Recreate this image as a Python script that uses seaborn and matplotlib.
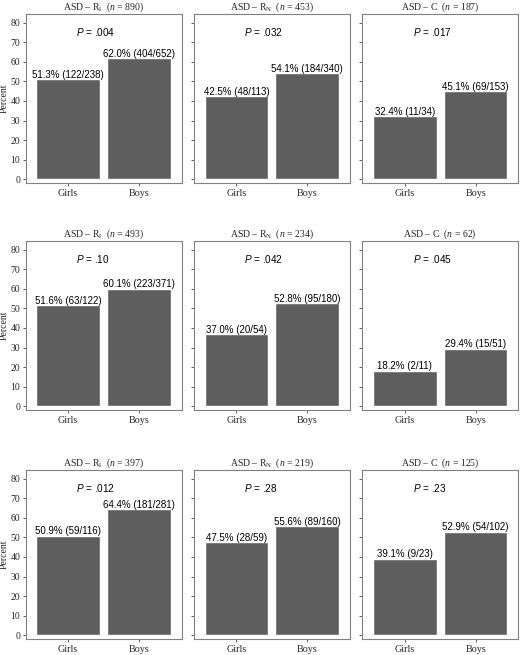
import matplotlib
matplotlib.use("Agg")
import matplotlib.pyplot as plt
import seaborn as sns
import pandas as pd

# ---- data ----
sexes = ["Girls", "Boys"]
col_titles = ["I", "N", "C"]
row_n = [[890, 453, 187], [493, 234, 62], [397, 219, 125]]
row_p = [[".004", ".032", ".017"], [".10", ".042", ".045"], [".012", ".28", ".23"]]
girls_pct = [[51.3, 42.5, 32.4], [51.6, 37.0, 18.2], [50.9, 47.5, 39.1]]
boys_pct = [[62.0, 54.1, 45.1], [60.1, 52.8, 29.4], [64.4, 55.6, 52.9]]
girls_frac = [["122/238", "48/113", "11/34"], ["63/122", "20/54", "2/11"], ["59/116", "28/59", "9/23"]]
boys_frac = [["404/652", "184/340", "69/153"], ["223/371", "95/180", "15/51"], ["181/281", "89/160", "54/102"]]
y_ticks = [0, 10, 20, 30, 40, 50, 60, 70, 80]

sns.set_style("ticks")
plt.rcParams["font.family"] = ["Liberation Serif", "DejaVu Serif"]
plt.rcParams["mathtext.fontset"] = "custom"
plt.rcParams["mathtext.rm"] = "Liberation Serif"
plt.rcParams["mathtext.it"] = "Liberation Serif:italic"
plt.rcParams["mathtext.bf"] = "Liberation Sans:italic"

W, H = 520, 655
fig = plt.figure(figsize=(5.2, 6.55), dpi=100)

lefts = [25.7, 194.0, 362.3]
tops = [14.0, 241.0, 470.0]
pw, ph = 155.8, 169.0
bar_color = "#5e5e5e"
frame_color = "#808080"

for r in range(3):
    for c in range(3):
        ax = fig.add_axes([lefts[c] / W, 1 - (tops[r] + ph) / H, pw / W, ph / H])
        df = pd.DataFrame({"Sex": sexes,
                           "Percent": [girls_pct[r][c], boys_pct[r][c]]})
        sns.barplot(data=df, x="Sex", y="Percent", color=bar_color,
                    saturation=1, width=0.9, ax=ax, errorbar=None)
        labels = [f"{girls_pct[r][c]:.1f}% ({girls_frac[r][c]})",
                  f"{boys_pct[r][c]:.1f}% ({boys_frac[r][c]})"]
        ax.bar_label(ax.containers[0], labels=labels, padding=-0.5,
                     fontsize=7, family="Liberation Sans", color="#000000")
        ax.text(0.11, 75.3, r"$\mathbf{P}$ = " + row_p[r][c], ha="left", va="center",
                fontsize=7.2, family="Liberation Sans", color="#000000")
        ax.set_xlim(-0.6, 1.6)
        ax.set_ylim(-1.9, 84.4)
        ax.set_yticks(y_ticks)
        ax.set_xlabel("")
        if c == 0:
            ax.set_ylabel("Percent", fontsize=7)
            ax.yaxis.set_label_coords(-0.112, 0.5)
        else:
            ax.set_ylabel("")
            ax.set_yticklabels([])
        ax.set_title(r"ASD – R$_{\mathrm{" + col_titles[c] + r"}}$  ($n$ = " + f"{row_n[r][c]})"
                     if col_titles[c] != "C" else
                     r"ASD – C  ($n$ = " + f"{row_n[r][c]})",
                     fontsize=7, pad=3)
        for s in ax.spines.values():
            s.set_visible(True)
            s.set_color(frame_color)
            s.set_linewidth(0.8)
        ax.tick_params(axis="both", length=2, width=0.6, color="#444444",
                       labelsize=7, pad=2)
        ax.tick_params(axis="x", labelsize=7.3)

fig.savefig("out.png", dpi=100)
